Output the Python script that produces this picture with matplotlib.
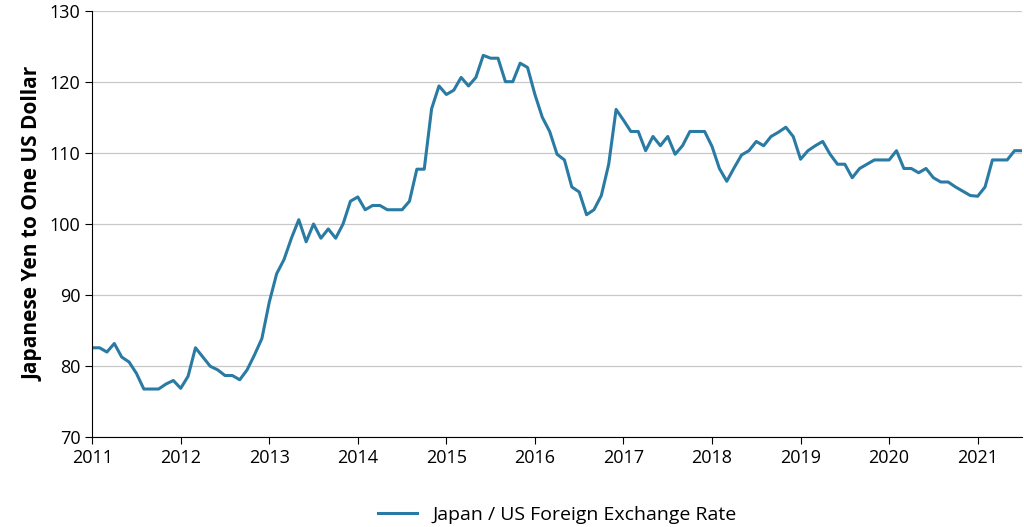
import numpy as np
import matplotlib.pyplot as plt

plt.rcParams['font.family'] = ['Open Sans', 'DejaVu Sans']

# monthly yen per dollar, Jan 2011 onward
rate = [
    82.6, 82.6, 82.0, 83.2, 81.3, 80.6, 79.0, 76.8, 76.8, 76.8, 77.5, 78.0,
    76.9, 78.6, 82.6, 81.3, 80.0, 79.5, 78.7, 78.7, 78.1, 79.5, 81.6, 83.9,
    89.0, 93.0, 95.0, 98.0, 100.6, 97.5, 100.0, 98.0, 99.3, 98.0, 100.0, 103.2,
    103.8, 102.0, 102.6, 102.6, 102.0, 102.0, 102.0, 103.2, 107.7, 107.7, 116.2, 119.4,
    118.2, 118.8, 120.6, 119.4, 120.6, 123.7, 123.3, 123.3, 120.0, 120.0, 122.6, 122.0,
    118.2, 115.0, 113.0, 109.8, 109.0, 105.2, 104.5, 101.3, 102.0, 104.0, 108.4, 116.1,
    114.6, 113.0, 113.0, 110.3, 112.3, 111.0, 112.3, 109.8, 111.0, 113.0, 113.0, 113.0,
    110.9, 107.8, 106.0, 107.9, 109.7, 110.3, 111.6, 111.0, 112.3, 112.9, 113.6, 112.3,
    109.1, 110.3, 111.0, 111.6, 109.8, 108.4, 108.4, 106.5, 107.8, 108.4, 109.0, 109.0,
    109.0, 110.3, 107.8, 107.8, 107.2, 107.8, 106.5, 105.9, 105.9, 105.2, 104.6, 104.0,
    103.9, 105.2, 109.0, 109.0, 109.0, 110.3, 110.3,
]
t = 2011 + np.arange(len(rate)) / 12
years = list(range(2011, 2022))

fig, ax = plt.subplots(figsize=(10.24, 5.27), dpi=100)
ax.plot(t, rate, color="#2a7ba3", lw=2.2, label="Japan / US Foreign Exchange Rate")

ax.set_xlim(2011, 2011 + (len(rate) - 1) / 12)
ax.set_ylim(70, 130)
ax.set_xticks(years)
ax.set_yticks(range(70, 131, 10))
ax.tick_params(labelsize=13, length=5)
ax.grid(axis="y", color="#c8c8c8", lw=0.9)
ax.set_axisbelow(True)
for s in ["top", "right"]:
    ax.spines[s].set_visible(False)
ax.set_ylabel("Japanese Yen to One US Dollar", fontsize=15, fontweight="bold")
ax.legend(loc="upper center", bbox_to_anchor=(0.5, -0.12), frameon=False, fontsize=14)

fig.subplots_adjust(left=0.09, right=0.998, top=0.98, bottom=0.17)
fig.savefig("out.png", dpi=100)
